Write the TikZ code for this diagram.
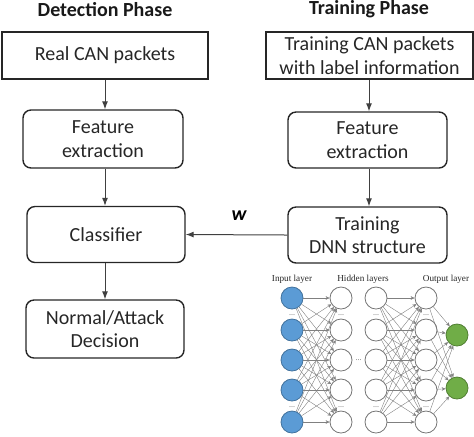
\documentclass[tikz,border=0pt]{standalone}
\usepackage{fontspec}
\setmainfont{Carlito}
\newfontfamily\nnfont{Liberation Serif}
\usepackage{tikz}
\usetikzlibrary{arrows.meta,shapes}
\definecolor{nnblue}{RGB}{91,155,213}
\definecolor{nnblueline}{RGB}{65,113,156}
\definecolor{nngreen}{RGB}{112,173,71}
\definecolor{nngreenline}{RGB}{80,126,50}
\newcommand{\nnrad}{11pt}
\newcommand{\boxfont}{\fontsize{10}{11.8}\selectfont}

\begin{document}
\begin{tikzpicture}[x=0.5pt,y=-0.5pt,
    phasebox/.style={draw=black!85, line width=0.7pt, align=center, inner sep=0pt, text=black!85, font=\boxfont},
    roundbox/.style={phasebox, rounded corners=4pt},
    head/.style={font=\bfseries\boxfont, text=black!90},
    flow/.style={-{Latex[length=4pt,width=3pt]}, line width=0.5pt, draw=black!75},
    neuron/.style={circle, draw=black!55, fill=white, minimum size=\nnrad, inner sep=0pt, line width=0.4pt},
    inneuron/.style={neuron, fill=nnblue, draw=nnblueline},
    outneuron/.style={neuron, fill=nngreen, draw=nngreenline},
    nnedge/.style={-{Stealth[length=2pt,width=1.8pt]}, draw=black!50, line width=0.2pt},
    nndots/.style={font=\nnfont\fontsize{4}{4}\selectfont, text=black!60, inner sep=0pt},
    nnlabel/.style={font=\nnfont\fontsize{4.6}{5}\selectfont, text=black!85, inner sep=0pt}]
    %\draw[help lines] (0,0) grid (474,436);
    \useasboundingbox (0,0) rectangle (474,436);
    % phases
    \node[head] (hdet) at (105,10) {Detection Phase};
    \node[head] (htrain) at (369,9) {Training Phase};
    \node[phasebox, minimum width=103pt, minimum height=23.5pt] (real) at (105,55.5) {Real CAN packets};
    \node[phasebox, minimum width=103.5pt, minimum height=23.5pt] (tcan) at (369.5,55.5) {Training CAN packets\\with label information};
    \node[roundbox, minimum width=80pt, minimum height=29pt] (feat1) at (103,139) {Feature\\extraction};
    \node[roundbox, minimum width=79.5pt, minimum height=28pt] (feat2) at (367.5,140) {Feature\\extraction};
    \node[roundbox, minimum width=79pt, minimum height=28pt] (clf) at (106,234.5) {Classifier};
    \node[roundbox, minimum width=79.5pt, minimum height=28pt] (dnn) at (367.5,235) {Training\\DNN structure};
    \node[roundbox, minimum width=79pt, minimum height=29pt] (dec) at (105,329) {Normal/Attack\\Decision};
    \draw[flow] (real.south -| 105,0) -- (feat1.north -| 105,0);
    \draw[flow] (feat1.south -| 105,0) -- (clf.north -| 105,0);
    \draw[flow] (clf.south -| 105,0) -- (dec.north -| 105,0);
    \draw[flow] (tcan.south -| 369,0) -- (feat2.north -| 369,0);
    \draw[flow] (feat2.south -| 369,0) -- (dnn.north -| 369,0);
    \draw[flow] (dnn.west) -- (clf.east);
    \node[font=\bfseries\itshape\boxfont] (wlab) at (239,216) {w};
    % network
    \node[nnlabel] (linput) at (292,279) {Input layer};
    \node[nnlabel] (lhidden) at (363,279) {Hidden layers};
    \node[nnlabel] (loutput) at (446,279) {Output layer};
    \foreach \i/\y in {1/298,2/330,3/360,4/390,5/422} {
        \node[inneuron] (in\i) at (292,\y) {};
        \node[neuron] (ha\i) at (341,\y) {};
        \node[neuron] (hb\i) at (376,\y) {};
        \node[neuron] (hc\i) at (426,\y) {};
    }
    \node[outneuron] (out1) at (457,335) {};
    \node[outneuron] (out2) at (457,388) {};
    \foreach \i in {1,...,5}
        \foreach \j in {1,...,5} {
            \draw[nnedge] (in\i) -- (ha\j);
            \draw[nnedge] (hb\i) -- (hc\j);
        }
    \foreach \i in {1,...,5}
        \foreach \j in {1,2}
            \draw[nnedge] (hc\i) -- (out\j);
    \foreach \x in {292,341,376,426} {
        \node[nndots] (dotsa\x) at (\x,315) {...};
        \node[nndots] (dotsb\x) at (\x,407) {...};
    }
    \node[nndots] (dotsmid) at (358.5,360) {...};
\end{tikzpicture}
\end{document}
